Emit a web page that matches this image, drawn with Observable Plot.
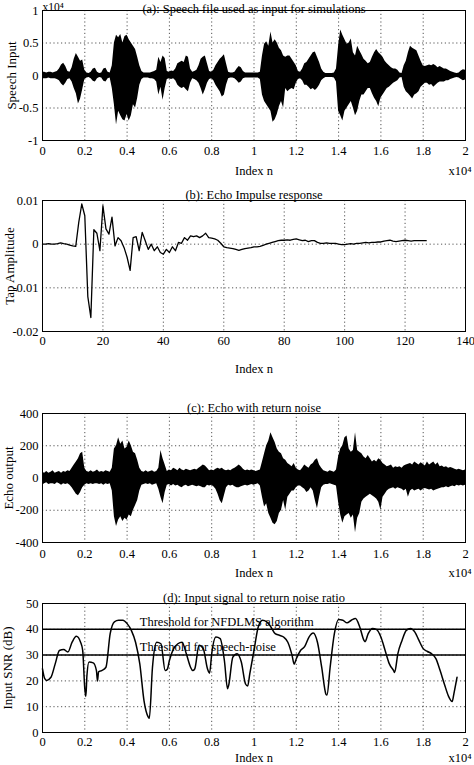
<!DOCTYPE html>
<html>
<head>
<meta charset="utf-8">
<script src="https://cdn.jsdelivr.net/npm/d3@7"></script>
<script src="https://cdn.jsdelivr.net/npm/@observablehq/plot@0.6"></script>
<style>
  html, body { margin: 0; padding: 0; background: #fff; }
  #chart { width: 474px; }
  #chart svg { display: block; }
</style>
</head>
<body>
<div id="chart"></div>
<script>
// ---------- Panel (a): speech input envelope (x10^4), one value per 100 samples ----------
const aHi = [
0.05,0.05,0.04,0.05,0.05,0.04,0.05,0.06,0.1,0.16,
0.19,0.14,0.06,0.05,0.12,0.25,0.34,0.28,0.22,0.24,
0.08,0.04,0.03,0.05,0.1,0.11,0.05,0.03,0.04,0.1,
0.11,0.05,0.04,0.15,0.5,0.62,0.58,0.63,0.5,0.6,
0.62,0.55,0.5,0.45,0.4,0.28,0.15,0.06,0.04,0.04,
0.04,0.04,0.05,0.06,0.08,0.28,0.2,0.3,0.26,0.06,
0.05,0.07,0.06,0.1,0.18,0.2,0.22,0.2,0.3,0.28,
0.1,0.05,0.06,0.08,0.15,0.25,0.28,0.3,0.18,0.06,
0.05,0.08,0.15,0.2,0.25,0.28,0.32,0.18,0.05,0.04,
0.04,0.05,0.1,0.14,0.12,0.06,0.04,0.04,0.04,0.04,
0.04,
0.04,0.04,0.05,0.3,0.48,0.52,0.45,0.67,0.5,0.55,
0.5,0.42,0.38,0.3,0.28,0.3,0.3,0.25,0.2,0.15,
0.06,0.05,0.1,0.18,0.2,0.25,0.3,0.35,0.36,0.28,
0.2,0.1,0.05,0.03,0.03,0.03,0.03,0.04,0.1,0.45,
0.7,0.62,0.55,0.48,0.5,0.56,0.35,0.3,0.45,0.38,
0.32,0.25,0.22,0.18,0.2,0.28,0.35,0.4,0.35,0.32,
0.28,0.22,0.18,0.15,0.12,0.1,0.1,0.08,0.04,0.03,
0.15,0.22,0.35,0.45,0.42,0.4,0.38,0.3,0.22,0.15,
0.14,0.15,0.16,0.15,0.17,0.15,0.12,0.14,0.12,0.1,
0.1,0.08,0.06,0.05,0.04,0.03,0.04,0.07,0.09,0.08
];
const aLo = [
-0.05,-0.05,-0.05,-0.04,-0.05,-0.05,-0.05,-0.06,-0.08,-0.13,
-0.16,-0.12,-0.06,-0.05,-0.1,-0.2,-0.28,-0.44,-0.36,-0.22,
-0.06,-0.04,-0.03,-0.05,-0.09,-0.1,-0.05,-0.03,-0.04,-0.09,
-0.1,-0.05,-0.04,-0.2,-0.45,-0.76,-0.55,-0.62,-0.68,-0.7,
-0.6,-0.7,-0.62,-0.45,-0.5,-0.35,-0.15,-0.06,-0.04,-0.04,
-0.04,-0.05,-0.05,-0.06,-0.1,-0.3,-0.18,-0.38,-0.2,-0.06,
-0.05,-0.06,-0.05,-0.08,-0.15,-0.18,-0.2,-0.18,-0.22,-0.25,
-0.12,-0.05,-0.06,-0.08,-0.12,-0.2,-0.3,-0.22,-0.12,-0.06,
-0.05,-0.08,-0.15,-0.2,-0.25,-0.33,-0.3,-0.15,-0.05,-0.04,
-0.04,-0.05,-0.08,-0.12,-0.1,-0.05,-0.04,-0.04,-0.04,-0.04,
-0.04,
-0.04,-0.04,-0.06,-0.3,-0.4,-0.45,-0.5,-0.55,-0.72,-0.68,
-0.6,-0.48,-0.4,-0.5,-0.2,-0.25,-0.22,-0.2,-0.22,-0.12,
-0.06,-0.05,-0.08,-0.15,-0.15,-0.18,-0.22,-0.2,-0.23,-0.2,
-0.15,-0.08,-0.05,-0.03,-0.03,-0.03,-0.03,-0.04,-0.1,-0.55,
-0.62,-0.7,-0.55,-0.5,-0.45,-0.4,-0.5,-0.62,-0.55,-0.4,
-0.3,-0.3,-0.25,-0.2,-0.2,-0.28,-0.35,-0.4,-0.48,-0.35,
-0.3,-0.25,-0.2,-0.18,-0.15,-0.12,-0.1,-0.08,-0.04,-0.03,
-0.18,-0.25,-0.28,-0.32,-0.36,-0.3,-0.28,-0.25,-0.18,-0.15,
-0.12,-0.12,-0.15,-0.14,-0.18,-0.15,-0.12,-0.1,-0.1,-0.1,
-0.08,-0.08,-0.06,-0.05,-0.04,-0.03,-0.04,-0.06,-0.08,-0.07
];

// ---------- Panel (b): echo impulse response taps (x 1e-3) ----------
const tapsMilli = [
0,0,0.1,0,0,0.1,0.3,0.1,0,-0.2,
-0.4,-0.5,5,9.2,6.5,-12,-16.8,3.3,2.5,-1.5,
8.8,3.5,2.3,6.2,-0.4,1.5,0.8,-0.8,-3,-6,
1.5,1.7,-1.5,2.7,0.8,-1.2,0,-1.5,-0.6,-1.9,
-2.3,-1.2,-1.9,-0.6,-1.5,0.4,0.2,1.5,0.9,1.9,
1.7,1.9,1.5,1.9,2.5,1.5,1.4,1.2,0.9,0.2,
-0.6,-0.8,-0.9,-1.0,-1.2,-1.4,-1.2,-1.0,-0.9,-0.8,
-0.6,-0.6,-0.5,-0.3,0,0.2,0.4,0.6,0.8,0.9,
0.9,1.0,0.9,1.1,1.2,1.0,0.8,0.9,0.6,0.8,
0.8,0.4,0.2,0.2,0.3,0.2,0.2,0.2,0,-0.1,
-0.1,0,0.1,0,0.2,0.2,0.3,0.4,0.3,0.4,
0.4,0.5,0.5,0.7,0.8,0.9,0.7,0.6,0.7,0.8,
0.9,0.8,0.7,0.8,0.8,0.8,0.8,0.8
];

// ---------- Panel (c): echo with return noise envelope, one value per 100 samples ----------
const cHi = [
35,30,40,30,35,45,30,35,40,30,
40,35,45,40,60,80,100,120,150,160,
60,40,35,45,35,40,50,35,40,35,
45,40,35,60,180,200,250,210,230,180,
190,230,200,160,150,110,60,40,35,45,
35,40,45,35,40,60,170,120,80,40,
50,45,60,55,45,60,50,45,55,50,
45,50,55,50,60,70,80,75,60,45,
50,45,55,60,55,60,50,45,50,45,
55,60,70,80,70,55,45,50,45,50,
45,
40,45,50,100,150,200,230,280,250,220,
180,160,150,120,110,90,80,70,90,60,
50,45,60,80,70,60,80,90,110,120,
80,60,45,40,35,45,40,35,50,130,
180,200,250,260,180,160,170,280,170,160,
150,130,120,140,120,100,110,100,120,110,
90,80,70,75,80,60,70,65,70,60,
75,80,85,90,80,100,90,80,95,85,
75,100,80,90,100,80,95,70,75,65,
70,60,65,60,55,50,55,50,45,50
];
const cLo = [
-45,-35,-30,-40,-35,-35,-40,-30,-35,-45,
-35,-40,-35,-45,-60,-80,-100,-110,-90,-60,
-45,-35,-40,-35,-40,-35,-35,-40,-35,-45,
-35,-40,-35,-80,-240,-300,-260,-240,-270,-250,
-260,-230,-240,-200,-170,-140,-80,-45,-40,-35,
-40,-35,-45,-40,-35,-70,-120,-160,-90,-45,
-40,-50,-40,-50,-45,-55,-60,-50,-45,-55,
-50,-45,-50,-55,-50,-55,-60,-60,-45,-50,
-45,-55,-70,-100,-140,-160,-110,-60,-45,-50,
-45,-55,-60,-60,-55,-50,-45,-50,-45,-40,
-45,
-40,-35,-50,-120,-180,-160,-220,-250,-280,-290,
-270,-220,-200,-140,-200,-120,-100,-80,-80,-60,
-50,-50,-60,-70,-90,-80,-60,-80,-140,-190,
-120,-60,-45,-40,-40,-35,-40,-45,-50,-150,
-230,-280,-240,-230,-220,-250,-230,-340,-250,-220,
-150,-130,-120,-110,-100,-110,-120,-130,-150,-200,
-120,-100,-80,-70,-65,-60,-70,-60,-65,-70,
-80,-70,-120,-80,-70,-80,-75,-70,-80,-70,
-65,-70,-75,-70,-80,-75,-70,-65,-60,-60,
-55,-60,-55,-50,-55,-45,-50,-45,-50,-45
];

// ---------- Panel (d): input SNR (dB) ----------
const snrN = [0,100,200,400,600,800,1000,1200,1400,1600,1800,1900,2000,2050,2100,2200,2400,2550,2600,2650,2800,3000,3200,3400,3600,3800,4000,4200,4400,4600,4800,5000,5050,5200,5400,5600,5800,5900,6000,6200,6400,6600,6800,7000,7100,7200,7400,7600,7800,7900,8000,8200,8400,8600,8750,8800,9000,9200,9400,9600,9700,9800,10000,10200,10400,10600,10800,11000,11200,11400,11600,11800,11900,12000,12200,12400,12600,12800,13000,13200,13400,13450,13600,13800,14000,14200,14400,14600,14800,15000,15200,15250,15400,15600,15800,16000,16200,16400,16600,16650,16800,17000,17200,17400,17600,17800,18000,18200,18400,18600,18800,19000,19200,19370,19450,19600];
const snrDb = [24.7,21,20.2,21.4,26.6,31.8,32.2,31.2,35,37.3,35,31.8,17,14,22,27.3,27,24,20,23.5,24,25.3,38.3,42.9,43.5,43.5,42.2,39.6,35,26.6,12.3,6,5.5,25.3,35,34.4,24,24.5,27.9,32.5,34.4,35,30.5,25.3,24,24.7,33.8,32.5,24.7,23,30.5,37,36.4,27.9,17,18.2,29.2,30.5,27.3,18.8,18,22.7,31.8,40.9,43.5,42.9,40.9,38.3,37.7,37,35,29.9,26.5,28.6,31.8,33.4,37,38.6,35,25.3,14.9,14.5,25.3,38.3,43.8,43.5,42.5,43.5,44.2,40.9,35.7,35.2,38.3,40.3,39.9,37,31.8,26.6,24,23.3,30.5,35.7,39.6,40.3,39,35.7,32.5,31.4,30.5,28.6,24,18.8,14,12,15,21.4];
const thresholds = [40, 30];
const thresholdLabels = ["Threshold for NFDLMS algorithm", "Threshold for speech-noise"];
const thresholdLabelY = [43, 33];

// ---------- Tick labels & texts ----------
const xTicksN = [0,2000,4000,6000,8000,10000,12000,14000,16000,18000,20000];
const xTicksTap = [0,20,40,60,80,100,120,140];
const yTicksA = [-1,-0.5,0,0.5,1];
const yTicksB = [-0.02,-0.01,0,0.01];
const yTicksC = [-400,-200,0,200,400];
const yTicksD = [0,10,20,30,40,50];
const titles = [
  "(a): Speech file used as input for simulations",
  "(b): Echo Impulse response",
  "(c): Echo with return noise",
  "(d): Input signal to return noise ratio"
];
const yLabels = ["Speech Input", "Tap Amplitude", "Echo output", "Input SNR (dB)"];
const xLabel = "Index n";
const expLabel = "x10\u2074";

// ---------- build tables ----------
const aData = aHi.map((hi, i) => ({n: i * 100, hi, lo: aLo[i]}));
const cData = cHi.map((hi, i) => ({n: i * 100, hi, lo: cLo[i]}));
const bData = tapsMilli.map((v, i) => ({n: i, v: v / 1000}));
const dData = snrN.map((n, i) => ({n, v: snrDb[i]}));

const FONT = "'Liberation Serif', 'Times New Roman', serif";
const fmtN = d => String(+(d / 10000).toFixed(1));
const fmt = d => String(d);

function panel({height, mt, mb, xDomain, xTicks, xFmt, yDomain, yTicks, title, titleDy, ylab, exp, topExp, tickPadX, xlabDy, marks, ylabDx}) {
  const grid = { stroke: "#000", strokeOpacity: 0.75, strokeDasharray: "1.2,2.6", strokeWidth: 0.9 };
  const extra = [];
  if (exp) extra.push(Plot.text([expLabel], {text: d => d, frameAnchor: "bottom-right", dx: 6, dy: xlabDy, textAnchor: "end", lineAnchor: "middle", fontSize: 12.5}));
  if (topExp) extra.push(Plot.text([expLabel], {text: d => d, frameAnchor: "top-left", dx: 0, dy: -3, textAnchor: "start", lineAnchor: "middle", fontSize: 11.5}));
  return Plot.plot({
    width: 474,
    height,
    marginLeft: 42,
    marginRight: 9,
    marginTop: mt,
    marginBottom: mb,
    style: {fontFamily: FONT, fontSize: "12.5px", color: "#000", background: "#fff", overflow: "visible"},
    x: {domain: xDomain},
    y: {domain: yDomain},
    marks: [
      Plot.gridX(xTicks, grid),
      Plot.gridY(yTicks, grid),
      ...marks,
      Plot.frame({stroke: "#000", strokeWidth: 1}),
      Plot.axisX({ticks: xTicks, tickFormat: xFmt, tickSize: 0, tickPadding: tickPadX, label: null, fontSize: 12.5}),
      Plot.axisY({ticks: yTicks, tickFormat: fmt, tickSize: 0, tickPadding: 4, label: null, fontSize: 12.5}),
      Plot.text([title], {text: d => d, frameAnchor: "top", dy: titleDy, lineAnchor: "middle", fontSize: 12.5}),
      Plot.text([xLabel], {text: d => d, frameAnchor: "bottom", dy: xlabDy, lineAnchor: "middle", fontSize: 12.5}),
      Plot.text([ylab], {text: d => d, frameAnchor: "left", dx: ylabDx, rotate: -90, textAnchor: "middle", lineAnchor: "middle", fontSize: 13}),
      ...extra
    ]
  });
}

const root = document.getElementById("chart");

root.appendChild(panel({
  height: 185, mt: 10, mb: 45,
  xDomain: [0, 20000], xTicks: xTicksN, xFmt: fmtN,
  yDomain: [-1, 1], yTicks: yTicksA,
  title: titles[0], titleDy: -2, ylab: yLabels[0], exp: true, topExp: true, tickPadX: 6, xlabDy: 30, ylabDx: -31,
  marks: [Plot.areaY(aData, {x: "n", y1: "lo", y2: "hi", fill: "#000", curve: "linear"})]
}));

root.appendChild(panel({
  height: 195, mt: 15, mb: 49,
  xDomain: [0, 140], xTicks: xTicksTap, xFmt: fmt,
  yDomain: [-0.02, 0.01], yTicks: yTicksB,
  title: titles[1], titleDy: -6, ylab: yLabels[1], exp: false, topExp: false, tickPadX: 5, xlabDy: 37, ylabDx: -33,
  marks: [Plot.line(bData, {x: "n", y: "v", stroke: "#000", strokeWidth: 1.3, curve: "linear"})]
}));

root.appendChild(panel({
  height: 195, mt: 33, mb: 33,
  xDomain: [0, 20000], xTicks: xTicksN, xFmt: fmtN,
  yDomain: [-400, 400], yTicks: yTicksC,
  title: titles[2], titleDy: -6, ylab: yLabels[2], exp: true, topExp: false, tickPadX: 7, xlabDy: 30, ylabDx: -34,
  marks: [Plot.areaY(cData, {x: "n", y1: "lo", y2: "hi", fill: "#000", curve: "linear"})]
}));

root.appendChild(panel({
  height: 190, mt: 28, mb: 33,
  xDomain: [0, 20000], xTicks: xTicksN, xFmt: fmtN,
  yDomain: [0, 50], yTicks: yTicksD,
  title: titles[3], titleDy: -6, ylab: yLabels[3], exp: true, topExp: false, tickPadX: 5, xlabDy: 25, ylabDx: -35,
  marks: [
    Plot.ruleY(thresholds, {stroke: "#000", strokeWidth: 1.5}),
    Plot.line(dData, {x: "n", y: "v", stroke: "#000", strokeWidth: 1.5, curve: "monotone-x"}),
    Plot.text(thresholdLabels, {text: d => d, x: () => 4600, y: (d, i) => thresholdLabelY[i], textAnchor: "start", lineAnchor: "middle", fontSize: 12.5})
  ]
}));
</script>
</body>
</html>
